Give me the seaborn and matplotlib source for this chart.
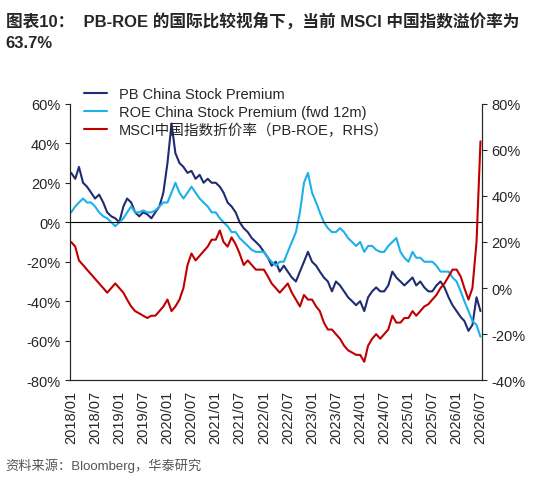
import numpy as np
import pandas as pd
import matplotlib.pyplot as plt
import matplotlib.ticker as mtick
import seaborn as sns

sns.set_style("white")
plt.rcParams['font.family'] = ['Liberation Sans', 'Noto Sans CJK SC', 'DejaVu Sans']

pb = [25, 22, 28, 20, 18, 15, 12, 14, 10, 5, 3, 2,
      0, 8, 12, 10, 5, 3, 5, 4, 2, 5, 8, 15,
      30, 50, 35, 30, 28, 25, 26, 22, 24, 20, 22, 20,
      20, 18, 15, 10, 8, 5, 0, -3, -5, -8, -10, -12,
      -15, -18, -22, -20, -25, -22, -25, -28, -30, -25, -20, -15,
      -20, -22, -25, -28, -30, -35, -30, -32, -35, -38, -40, -42,
      -40, -45, -38, -35, -33, -35, -35, -32, -25, -28, -30, -32,
      -30, -28, -32, -30, -33, -35, -35, -32, -30, -33, -38, -42,
      -45, -48, -50, -55, -52, -38, -45]
roe = [5, 8, 10, 12, 10, 10, 8, 5, 3, 2, 0, -2,
       0, 2, 5, 8, 5, 5, 6, 5, 5, 6, 8, 10,
       10, 15, 20, 15, 12, 15, 18, 15, 12, 10, 8, 5,
       5, 2, 0, -2, -5, -5, -8, -10, -12, -14, -15, -15,
       -15, -18, -20, -22, -20, -20, -15, -10, -5, 5, 20, 25,
       15, 10, 5, 0, -3, -5, -5, -3, -5, -8, -10, -12,
       -10, -15, -12, -12, -14, -15, -15, -12, -10, -8, -15, -18,
       -20, -15, -18, -18, -20, -20, -20, -22, -25, -25, -25, -28,
       -30, -35, -40, -45, -50, -52, -58]
msci = [20, 18, 12, 10, 8, 6, 4, 2, 0, -2, 0, 2,
        0, -2, -5, -8, -10, -11, -12, -13, -12, -12, -10, -8,
        -5, -10, -8, -5, 0, 10, 15, 12, 14, 16, 18, 21,
        21, 25, 20, 18, 22, 19, 15, 10, 12, 10, 8, 8,
        8, 5, 2, 0, -2, 0, 2, -2, -5, -8, -3, -5,
        -5, -8, -10, -15, -18, -18, -20, -22, -25, -27, -28, -29,
        -29, -32, -25, -22, -20, -22, -20, -18, -12, -15, -15, -13,
        -13, -10, -12, -10, -8, -7, -5, -3, 0, 2, 5, 8,
        8, 5, 0, -5, 0, 20, 63.7]

dates = pd.date_range("2018-01-01", periods=len(pb), freq="MS")
df = pd.DataFrame({"date": dates, "pb": pb, "roe": roe, "msci": msci})

fig = plt.figure(figsize=(5.5, 4.85), dpi=100)
ax = fig.add_axes([0.127, 0.214, 0.749, 0.57])
ax2 = ax.twinx()

l1, = ax.plot([], [])
sns.lineplot(data=df, x="date", y="pb", ax=ax, color="#1F2C73", lw=1.5, label="PB China Stock Premium", legend=False)
sns.lineplot(data=df, x="date", y="roe", ax=ax, color="#1CB0EC", lw=1.5, label="ROE China Stock Premium (fwd 12m)", legend=False)
sns.lineplot(data=df, x="date", y="msci", ax=ax2, color="#C00000", lw=1.5, label="MSCI中国指数折价率（PB-ROE，RHS）", legend=False)

ax.set_ylim(-80, 60)
ax.set_yticks(range(-80, 61, 20))
ax2.set_ylim(-40, 80)
ax2.set_yticks(range(-40, 81, 20))
for a in (ax, ax2):
    a.yaxis.set_major_formatter(mtick.FuncFormatter(lambda v, p: f"{v:.0f}%"))
    a.set_xlabel("")
    a.set_ylabel("")
    a.tick_params(labelsize=10.5)
ax.axhline(0, color="black", lw=0.8)

ticks = pd.date_range("2018-01-01", "2026-07-01", freq="6MS")
ax.set_xticks(ticks)
ax.set_xticklabels([t.strftime("%Y/%m") for t in ticks], rotation=90)
ax.set_xlim(dates[0] - pd.Timedelta(days=10), dates[-1] + pd.Timedelta(days=10))
for s in ("top",):
    ax.spines[s].set_visible(False)
    ax2.spines[s].set_visible(False)

h1, lb1 = ax.get_legend_handles_labels()
h2, lb2 = ax2.get_legend_handles_labels()
ax.legend(h1[-2:] + h2, lb1[-2:] + lb2, loc="upper left", bbox_to_anchor=(0.02, 1.08),
          frameon=False, fontsize=10.5, handlelength=1.6, borderaxespad=0, labelspacing=0.25)

fig.text(0.01, 0.975, "图表10：  PB-ROE 的国际比较视角下，当前 MSCI 中国指数溢价率为",
         fontsize=12, fontweight="bold", va="top")
fig.text(0.01, 0.925, "63.7%", fontsize=12, fontweight="bold", va="top")
fig.text(0.01, 0.03, "资料来源：Bloomberg，华泰研究", fontsize=9.5, color="#555555")

fig.savefig("out.png", dpi=100)
